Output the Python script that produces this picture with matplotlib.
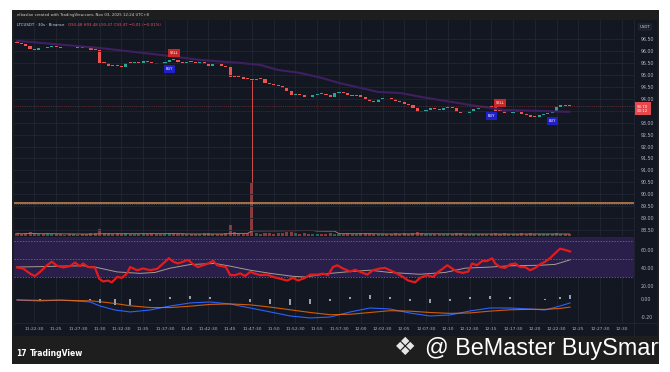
import matplotlib
matplotlib.use("Agg")
import matplotlib.pyplot as plt
from matplotlib.patches import Rectangle
import numpy as np
import pandas as pd

# Datos (LTCUSDT, velas de 30s, Binance)

cierres = [96.33, 96.29, 96.21, 96.08, 96.04, 96.12, 96.12, 96.17, 96.21, 96.17,
           96.12, 96.12, 96.12, 96.14, 96.14, 96.14, 96.12, 96.05, 96.04, 95.50,
           95.50, 95.37, 95.37, 95.37, 95.33, 95.50, 95.50, 95.54, 95.50, 95.58,
           95.54, 95.50, 95.45, 95.45, 95.54, 95.62, 95.62, 95.54, 95.50, 95.54,
           95.54, 95.50, 95.54, 95.45, 95.37, 95.45, 95.45, 95.37, 95.33, 94.91,
           94.91, 94.91, 94.83, 94.83, 94.80, 94.83, 94.83, 94.66, 94.62, 94.58,
           94.53, 94.45, 94.32, 94.16, 94.20, 94.16, 94.07, 94.07, 94.16, 94.20,
           94.20, 94.16, 94.07, 94.24, 94.28, 94.24, 94.16, 94.11, 94.16, 94.07,
           93.99, 93.91, 93.86, 93.99, 94.03, 94.03, 93.99, 93.91, 93.86, 93.78,
           93.74, 93.61, 93.45, 93.45, 93.53, 93.61, 93.57, 93.53, 93.61, 93.66,
           93.61, 93.45, 93.40, 93.40, 93.49, 93.57, 93.61, 93.61, 93.66, 93.66,
           93.49, 93.49, 93.40, 93.40, 93.45, 93.45, 93.36, 93.32, 93.24, 93.24,
           93.32, 93.36, 93.40, 93.49, 93.66, 93.74, 93.70, 93.70]
apertura_inicial = 96.35

# mecha larga de la vela 54
vela_mecha = 54
minimo_mecha = 90.5

volumen = [3, 2, 3, 4, 2, 2, 2, 3, 2, 2,
           2, 1, 2, 2, 1, 2, 2, 3, 3, 8,
           3, 3, 2, 3, 2, 3, 2, 2, 2, 2,
           2, 3, 2, 2, 2, 3, 3, 2, 2, 2,
           2, 2, 2, 3, 3, 2, 2, 2, 3, 12,
           4, 3, 2, 3, 60, 3, 2, 3, 3, 2,
           3, 3, 4, 5, 3, 2, 3, 2, 2, 2,
           2, 2, 3, 2, 2, 2, 3, 2, 2, 3,
           3, 3, 2, 2, 2, 2, 2, 3, 2, 3,
           2, 3, 4, 3, 2, 2, 2, 2, 2, 2,
           2, 3, 3, 2, 2, 2, 2, 2, 2, 2,
           3, 2, 3, 2, 2, 2, 3, 2, 3, 2,
           2, 2, 2, 2, 3, 2, 2, 2]

# media movil (linea morada)
ma_idx = [0, 19, 33, 42, 51, 56, 60, 65, 70, 74, 79, 83, 88, 93, 104, 112, 127]
ma_val = [96.42, 96.12, 95.83, 95.62, 95.50, 95.41, 95.20, 95.08, 94.87, 94.66,
          94.45, 94.28, 94.24, 94.07, 93.74, 93.53, 93.45]

linea_horizontal = 89.65

# senales
sell_idx = [36, 111]
sell_precio = [95.91, 93.82]
buy_idx = [35, 109, 123]
buy_precio = [95.24, 93.28, 93.07]

# RSI
rsi_idx = [0, 1.4, 3, 4.1, 5.3, 6.9, 8, 9.2, 10.6, 12.2, 13.3, 14.5, 15.2, 16.3, 17.9,
           18.9, 19.8, 20.9, 21.8, 23, 24.1, 25.3, 26, 27.6, 29, 30.6, 32.2, 33.6, 34.9,
           35.9, 37, 38.2, 39.3, 40.5, 41.6, 42.8, 43.9, 45.1, 46, 47.1, 48, 49, 50.1,
           51.3, 52.4, 53.6, 54.7, 55.9, 57.5, 58.9, 60.5, 62.1, 63.4, 64.6, 66.2, 67.4,
           69, 70.3, 71.5, 72.6, 73.6, 74.9, 76.6, 77.7, 78.9, 80.5, 81.8, 83.4, 84.6,
           85.7, 87.4, 88.7, 89.9, 91.5, 92.6, 94.3, 95.6, 96.8, 97.9, 98.9, 100, 101.1,
           102.5, 103.7, 104.6, 105.7, 106.9, 108, 109.2, 109.9, 111, 112.2, 113.3, 114.5,
           115.6, 116.8, 117.9, 119.1, 120.2, 121.4, 122.5, 123.7, 124.8, 126, 127.1]
rsi_val = [40.6, 39.4, 33.7, 31, 35.6, 43, 47, 42.4, 40.6, 42, 46, 42, 45, 41, 40.6,
           28, 25, 26, 24, 30, 29, 34, 41, 37.5, 39.4, 37.5, 39, 45, 50.8,
           47, 45, 47, 49, 44, 41, 43, 45, 47.7, 43, 42, 41, 32, 32,
           34, 31, 35.6, 33.7, 32, 32.6, 30, 28, 26, 29, 26, 29, 32.6,
           32.6, 33.7, 32, 41, 43, 39.4, 36, 38, 35.6, 32.6, 37.5, 39.4, 40,
           37.5, 33.7, 30, 26, 24, 29, 32, 30, 35.6, 39.4, 43, 39.4, 36,
           34.5, 36, 45, 43, 47.7, 47.7, 50.8, 45, 41, 40, 44, 45,
           41, 41, 37.5, 40, 44, 47, 50.8, 56.5, 61.4, 60, 58.3]
rsi_ma_idx = [0, 5.3, 9.9, 15.2, 17.9, 23, 28.3, 31.7, 35.2, 39.8, 45.5, 49, 53.6, 58.2,
              63.4, 66.2, 72, 76.6, 81.1, 85.7, 92.6, 98.4, 103, 108.7, 113.3, 120.2,
              123.7, 127.1]
rsi_ma_val = [41, 41.5, 42, 42.4, 41, 35.6, 34, 35, 39.8, 43.8, 45, 42, 37.5, 34,
              30.7, 30, 34, 36, 37.5, 35, 33, 35, 39.8, 41, 42.4, 43, 44, 49]

# MACD
macd_idx = [0, 5.3, 9.9, 16.8, 19.1, 22.5, 26, 30.6, 35.2, 39.8, 44.4, 49, 53.6, 58.2,
            62.8, 67.4, 72, 76.6, 81.1, 85.7, 90.3, 94.9, 99.5, 104.1, 108.7, 113.3,
            117.9, 121.4, 124.8, 127.1]
macd_val = [-0.011, -0.022, -0.011, -0.033, -0.078, -0.122, -0.144, -0.122, -0.078,
            -0.044, -0.033, -0.056, -0.100, -0.144, -0.189, -0.211, -0.200, -0.144,
            -0.100, -0.111, -0.156, -0.189, -0.178, -0.133, -0.100, -0.100, -0.111,
            -0.122, -0.078, -0.044]
senal_val = [-0.011, -0.015, -0.014, -0.020, -0.030, -0.050, -0.075, -0.095, -0.095,
             -0.080, -0.060, -0.055, -0.065, -0.090, -0.120, -0.150, -0.175, -0.170,
             -0.150, -0.130, -0.135, -0.150, -0.160, -0.155, -0.135, -0.120, -0.115,
             -0.115, -0.105, -0.090]

etiquetas_tiempo = ["11:22:30", "11:25", "11:27:30", "11:30", "11:32:30", "11:35",
                    "11:37:30", "11:40", "11:42:30", "11:45", "11:47:30", "11:50",
                    "11:52:30", "11:55", "11:57:30", "12:00", "12:02:30", "12:05",
                    "12:07:30", "12:10", "12:12:30", "12:15", "12:17:30", "12:20",
                    "12:22:30", "12:25", "12:27:30", "12:30"]

# Colores
FONDO = '#131722'
MARCO = '#1e1e1e'
REJILLA = '#222633'
TEXTO = '#b2b5be'
VERDE = '#26a69a'
ROJO = '#ef5350'

W, H = 670, 372
fig = plt.figure(figsize=(W / 100, H / 100), dpi=100)
fig.patch.set_facecolor('white')


def rect_px(x0, y0, x1, y1):
    return [x0 / W, 1 - y1 / H, (x1 - x0) / W, (y1 - y0) / H]


def caja(x0, y0, x1, y1, color):
    fig.add_artist(Rectangle((x0 / W, 1 - y1 / H), (x1 - x0) / W, (y1 - y0) / H,
                             transform=fig.transFigure, facecolor=color,
                             edgecolor='none', zorder=-2))


def linea(x0, y0, x1, y1, color=REJILLA, lw=0.6):
    fig.add_artist(plt.Line2D([x0 / W, x1 / W], [1 - y0 / H, 1 - y1 / H],
                              transform=fig.transFigure, color=color, lw=lw, zorder=1))


caja(12, 10, 659, 364, MARCO)
caja(14, 20, 657, 336, FONDO)
linea(634, 20, 634, 336)
linea(14, 323, 657, 323)

x_min, x_max = -0.69, 141.8
pos_tiempo = np.arange(4, 4 + 5 * len(etiquetas_tiempo), 5)

n = len(cierres)
idx = np.arange(n)
aperturas = [apertura_inicial] + cierres[:-1]
colores = [VERDE if c > o else ROJO for o, c in zip(aperturas, cierres)]

# --- Panel de precio ---
ax_vol = fig.add_axes(rect_px(14, 20, 634, 236))
ax_vol.set_facecolor(FONDO)
ax_vol.bar(idx, volumen, width=0.7, color=colores, alpha=0.55)
vol_ma = pd.Series(volumen).rolling(20, min_periods=1).mean()
ax_vol.plot(idx, vol_ma, color='#a1785a', lw=0.7)
ax_vol.set_ylim(0, 245)
ax_vol.set_xlim(x_min, x_max)
ax_vol.set_xticks(pos_tiempo)
ax_vol.grid(axis='x', color=REJILLA, lw=0.6)
ax_vol.set_axisbelow(True)
ax_vol.tick_params(length=0, labelbottom=False, labelleft=False)
ax_vol.set_yticks([])
for s in ax_vol.spines.values():
    s.set_visible(False)

ax = fig.add_axes(rect_px(14, 20, 634, 236), sharex=ax_vol)
ax.set_facecolor('none')
ax.set_ylim(88.26, 97.29)
precios_ticks = np.arange(88.5, 96.51, 0.5)
ax.set_yticks(precios_ticks)
# la etiqueta 93.50 queda tapada por la caja del precio actual
ax.set_yticklabels(["" if abs(p - 93.5) < 0.01 else f"{p:.2f}" for p in precios_ticks])
ax.yaxis.tick_right()
ax.tick_params(axis='y', length=0, labelsize=3.4, colors=TEXTO, pad=5)
ax.tick_params(axis='x', length=0, labelbottom=False)
ax.grid(axis='y', color=REJILLA, lw=0.6)
for s in ax.spines.values():
    s.set_visible(False)

ax.plot(ma_idx, ma_val, color='#3f1f60', lw=1.5, solid_capstyle='round')
ax.axhline(linea_horizontal, color='#c98b4f', lw=1.1)
ax.axhline(linea_horizontal - 0.05, color='#7a6a55', lw=0.5, ls=':')
ax.axhline(cierres[-1], color=ROJO, lw=0.5, ls=':', alpha=0.6)

bajos = np.minimum(aperturas, cierres)
alturas = np.maximum(np.abs(np.array(cierres) - np.array(aperturas)), 0.02)
ax.vlines(vela_mecha, minimo_mecha, cierres[vela_mecha], color=ROJO, lw=0.6)
ax.bar(idx, alturas, bottom=bajos, width=0.72, color=colores, lw=0)

for i, p in zip(sell_idx, sell_precio):
    ax.text(i, p, "SELL", color='white', fontsize=2.6, ha='center', va='center',
            bbox=dict(boxstyle='square,pad=0.5', fc='#c62828', ec='none'))
for i, p in zip(buy_idx, buy_precio):
    ax.text(i, p, "BUY", color='white', fontsize=2.6, ha='center', va='center',
            bbox=dict(boxstyle='square,pad=0.5', fc='#2020c8', ec='none'))

ax.text(1.005, cierres[-1] - 0.12, f"{cierres[-1]:.2f}\n00:12", transform=ax.get_yaxis_transform(),
        color='white', fontsize=2.8, ha='left', va='center', linespacing=1.0,
        bbox=dict(boxstyle='square,pad=0.6', fc='#e5484d', ec='none'))

# --- Panel RSI ---
ax_rsi = fig.add_axes(rect_px(14, 237, 634, 291), sharex=ax_vol)
ax_rsi.set_facecolor(FONDO)
ax_rsi.set_ylim(14.4, 74.4)
ax_rsi.axhspan(30, 74.4, color='#2a1e4a', lw=0)
for nivel in [70, 50, 30]:
    ax_rsi.axhline(nivel, color='#787b86', lw=0.5, ls=(0, (2, 2)))
ax_rsi.plot(rsi_ma_idx, rsi_ma_val, color='#a59d8c', lw=0.7)
ax_rsi.plot(rsi_idx, rsi_val, color='#e51b1b', lw=1.6)
ax_rsi.set_yticks([60, 40, 20])
ax_rsi.set_yticklabels(["60.00", "40.00", "20.00"])
ax_rsi.yaxis.tick_right()
ax_rsi.tick_params(axis='y', length=0, labelsize=3.4, colors=TEXTO, pad=5)
ax_rsi.tick_params(axis='x', length=0, labelbottom=False)
ax_rsi.grid(axis='x', color=REJILLA, lw=0.6)
ax_rsi.set_axisbelow(True)
for s in ax_rsi.spines.values():
    s.set_visible(False)

# --- Panel MACD ---
ax_macd = fig.add_axes(rect_px(14, 291, 634, 323), sharex=ax_vol)
ax_macd.set_facecolor(FONDO)
ax_macd.set_ylim(-0.267, 0.089)
hist = np.array(macd_val) - np.array(senal_val)
ax_macd.bar(macd_idx, hist, width=0.5, color='#b9c4d6', alpha=0.8)
ax_macd.plot(macd_idx, macd_val, color='#2962ff', lw=0.8)
ax_macd.plot(macd_idx, senal_val, color='#ff6d00', lw=0.8, alpha=0.8)
ax_macd.set_yticks([0, -0.2])
ax_macd.set_yticklabels(["0.00", "-0.20"])
ax_macd.yaxis.tick_right()
ax_macd.tick_params(axis='y', length=0, labelsize=3.4, colors=TEXTO, pad=5)
ax_macd.set_xticks(pos_tiempo)
ax_macd.set_xticklabels(etiquetas_tiempo)
ax_macd.tick_params(axis='x', length=0, labelsize=3.2, colors=TEXTO, pad=3)
ax_macd.grid(axis='x', color=REJILLA, lw=0.6)
ax_macd.set_axisbelow(True)
for s in ax_macd.spines.values():
    s.set_visible(False)

# --- Textos ---
fig.text(17 / W, 1 - 15 / H, "elbaslan created with TradingView.com, Nov 03, 2025 12:24 UTC+8",
         color='#d1d4dc', fontsize=2.8, va='center')
fig.text(17 / W, 1 - 25 / H, "LTCUSDT · 30s · Binance", color='#d1d4dc', fontsize=2.8, va='center')
fig.text(68 / W, 1 - 25 / H, "O93.48 H93.48 L93.47 C93.47 −0.01 (−0.01%)", color=ROJO,
         fontsize=2.8, va='center')
fig.text(645 / W, 1 - 27 / H, "USDT", color='#d1d4dc', fontsize=2.8, va='center', ha='center',
         bbox=dict(boxstyle='round,pad=0.5', fc='#1e222d', ec='none'))
fig.text(16 / W, 1 - 353 / H, "17", color='white', fontsize=5.5, fontweight='bold', va='center')
fig.text(30 / W, 1 - 353 / H, "TradingView", color='white', fontsize=5.5, fontweight='bold',
         va='center')

# marca de agua
fig.text(394 / W, 1 - 348 / H, "❖", color='#e6e6e6', fontsize=18, va='center',
         family='DejaVu Sans')
fig.text(425 / W, 1 - 348 / H, "@ BeMaster BuySmart", color='white', fontsize=16.8,
         va='center', family='Liberation Sans')

fig.savefig("out.png", dpi=100, facecolor='white')
